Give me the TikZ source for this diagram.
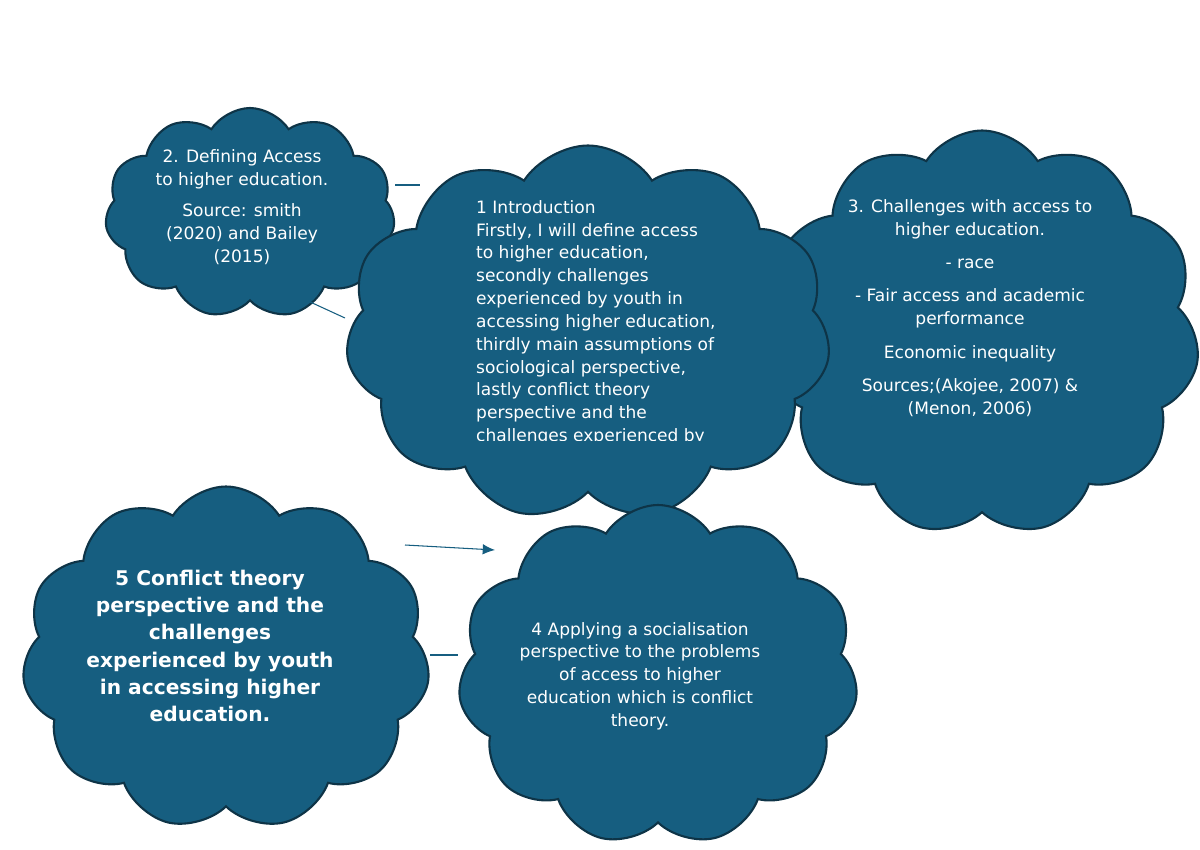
\documentclass[tikz,border=0pt]{standalone}
\usepackage{fontspec}
\setmainfont{DejaVu Sans}
\usetikzlibrary{shapes.symbols,arrows.meta}
\definecolor{cl}{HTML}{165E80}
\definecolor{ed}{HTML}{0E3447}
\begin{document}
\begin{tikzpicture}[x=0.02cm,y=-0.02cm,
  cloudbox/.style={cloud,cloud puffs=11,cloud puff arc=115,fill=cl,draw=ed,line width=1.2pt,inner sep=0pt,aspect=1},
  txt/.style={text=white,font=\fontsize{9.7}{13}\selectfont,align=center},
  conn/.style={draw=cl,line width=0.6pt},
  arr/.style={conn,-{Latex[length=7pt,width=6pt]}}]
\useasboundingbox (0,0) rectangle (1200,849);
\node[cloudbox,minimum width=290*0.02cm,minimum height=210*0.02cm] (c2) at (250,213) {};
\node[cloudbox,minimum width=435*0.02cm,minimum height=405*0.02cm] (c3) at (982,333) {};
\coordinate (a1) at (395,185); \coordinate (a2) at (420,185);
\draw[conn] (a1) -- (a2);
\node[cloudbox,minimum width=485*0.02cm,minimum height=375*0.02cm] (c1) at (588,333) {};
\node[cloudbox,minimum width=408*0.02cm,minimum height=343*0.02cm] (c5) at (226,658) {};
\node[cloudbox,minimum width=400*0.02cm,minimum height=340*0.02cm] (c4) at (658,675) {};
\coordinate (b1) at (345,318); \coordinate (b2) at (295,295);
\draw[arr] (b1) -- (b2);
\coordinate (d1) at (405,545); \coordinate (d2) at (495,550);
\draw[arr] (d1) -- (d2);
\coordinate (e1) at (430,655); \coordinate (e2) at (458,655);
\draw[conn] (e1) -- (e2);
\node[txt] (t2) at (242,207) {2. Defining Access\\to higher education.\\[5pt]Source: smith\\(2020) and Bailey\\(2015)};
\begin{scope}
\clip (460,190) rectangle (740,440);
\node[txt,align=left,anchor=north west] (t1) at (470,194) {1 Introduction\\Firstly, I will define access\\to higher education,\\secondly challenges\\experienced by youth in\\accessing higher education,\\thirdly main assumptions of\\sociological perspective,\\lastly conflict theory\\perspective and the\\challenges experienced by\\youth in accessing higher};
\end{scope}
\node[txt] (t3) at (970,308) {3. Challenges with access to\\higher education.\\[6pt]- race\\[6pt]- Fair access and academic\\performance\\[6pt]Economic inequality\\[6pt]Sources;(Akojee, 2007) \&\\(Menon, 2006)};
\node[txt,font=\bfseries\fontsize{11.5}{15.5}\selectfont] (t5) at (210,646) {5 Conflict theory\\perspective and the\\challenges\\experienced by youth\\in accessing higher\\education.};
\node[txt] (t4) at (640,676) {4 Applying a socialisation\\perspective to the problems\\of access to higher\\education which is conflict\\theory.};
\end{tikzpicture}
\end{document}
